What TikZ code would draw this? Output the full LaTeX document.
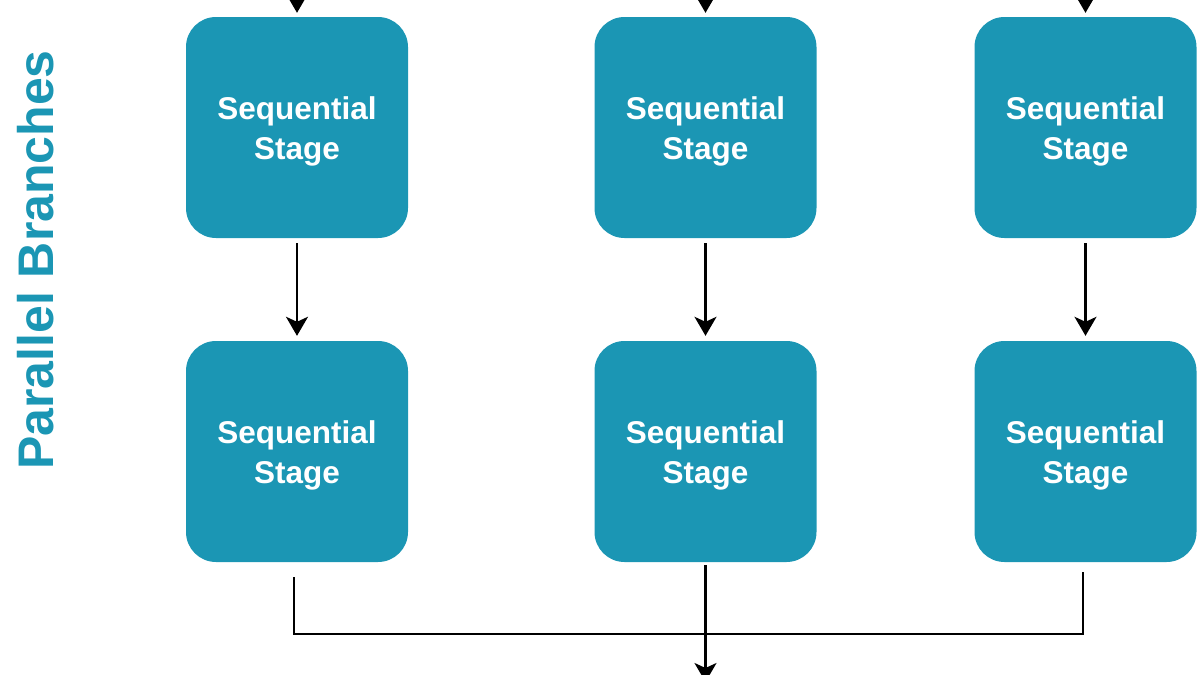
\documentclass[tikz,border=0pt]{standalone}
\usepackage{fontspec}
\setmainfont{Liberation Sans}
\usetikzlibrary{arrows.meta}
\definecolor{teal1}{RGB}{27,150,180}
\tikzset{
  stagebox/.style={rectangle, rounded corners=30pt, fill=teal1, minimum width=222pt, minimum height=221pt, inner sep=0pt,
    label={[text=white, align=center, font=\bfseries\fontsize{31.5}{40}\selectfont, yshift=-4pt]center:Sequential\\Stage}},
  conn/.style={line width=2.2pt, black},
  arr/.style={conn, -{Stealth[length=19pt,width=22pt,inset=5pt]}}
}
\begin{document}
\begin{tikzpicture}[x=1pt,y=-1pt]
\useasboundingbox (0,0) rectangle (1200,675);
\node[stagebox] (a1) at (297,127.5) {};
\node[stagebox] (b1) at (705.5,127.5) {};
\node[stagebox] (c1) at (1085.5,127.5) {};
\node[stagebox] (a2) at (297,451.5) {};
\node[stagebox] (b2) at (705.5,451.5) {};
\node[stagebox] (c2) at (1085.5,451.5) {};
\node[text=teal1, rotate=90, font=\bfseries\fontsize{50}{56}\selectfont] (lbl) at (36,260) {Parallel Branches};
\coordinate (ia) at (297,-30);
\coordinate (ib) at (705.5,-30);
\coordinate (ic) at (1085.5,-30);
\draw[arr, shorten >=4pt] (ia) -- (a1);
\draw[arr, shorten >=4pt] (ib) -- (b1);
\draw[arr, shorten >=4pt] (ic) -- (c1);
\draw[arr, shorten <=5pt, shorten >=5pt] (a1) -- (a2);
\draw[arr, shorten <=5pt, shorten >=5pt] (b1) -- (b2);
\draw[arr, shorten <=5pt, shorten >=5pt] (c1) -- (c2);
\coordinate (ja) at (294,634);
\coordinate (jc) at (1083,634);
\coordinate (out) at (705.5,682);
\draw[conn] (294,577) -- (ja) -- (jc) -- (1083,572);
\draw[arr, shorten <=3pt] (b2) -- (out);
\end{tikzpicture}
\end{document}
